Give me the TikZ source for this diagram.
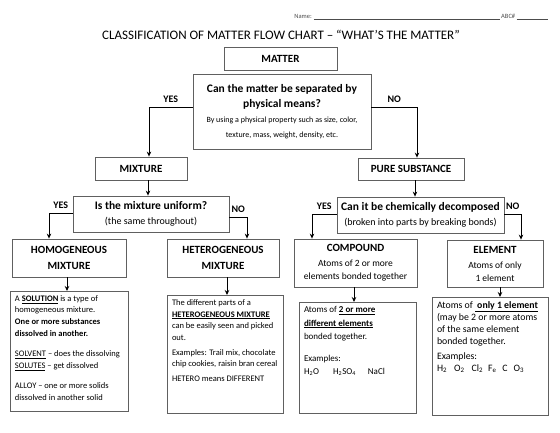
\documentclass[tikz,border=0pt]{standalone}
\usepackage{fontspec}
\setmainfont{Carlito}
\usetikzlibrary{positioning,arrows.meta}

\newcommand{\notefont}{\normalfont\fontsize{8}{9}\selectfont}
\newcommand{\subfont}{\normalfont\fontsize{10}{11}\selectfont}
\newcommand{\descbox}[3]{\parbox[t][#2][t]{#1}{\raggedright #3}}

\tikzset{
  box/.style={draw=gray!75!black, line width=0.8pt, align=center, inner sep=0pt,
    font=\bfseries\fontsize{11}{16}\selectfont},
  ask/.style={box, font=\bfseries\fontsize{11.5}{15}\selectfont},
  desc/.style={draw=gray!75!black, line width=0.8pt, anchor=north, inner xsep=5pt, inner ysep=4pt},
  link/.style={-{Stealth[length=5pt,width=4.5pt]}, line width=1pt},
  answer/.style={font=\bfseries\fontsize{10}{12}\selectfont, above=2pt}
}

\begin{document}
\begin{tikzpicture}[x=1pt,y=-1pt]
  \useasboundingbox (0,0) rectangle (560,433);

  % header
  \node[font=\fontsize{6.5}{7}\selectfont, text=gray!60!black] (name) at (421,17)
    {Name: \underline{\hspace{186pt}} ABC\# \underline{\hspace{31pt}}};
  \node[font=\fontsize{13}{15}\selectfont] (title) at (281,35)
    {CLASSIFICATION OF MATTER FLOW CHART -- “WHAT’S THE MATTER”};

  % top of the chart
  \node[box, minimum width=113pt, minimum height=23pt] (matter) at (280.5,58.5) {MATTER};
  \node[ask, minimum width=178pt, minimum height=75pt] (q_phys) at (282,111.5)
    {Can the matter be separated by\\physical means?\\
     {\notefont By using a physical property such as size, color,}\\
     {\notefont texture, mass, weight, density, etc.}};

  \node[box, minimum width=92pt, minimum height=23pt] (mixture) at (141,168.5) {MIXTURE};
  \node[box, minimum width=106pt, minimum height=22pt] (pure) at (411,169) {PURE SUBSTANCE};

  \node[ask, minimum width=156pt, minimum height=36pt] (q_unif) at (151,214)
    {Is the mixture uniform?\\{\subfont (the same throughout)}};
  \node[ask, minimum width=167pt, minimum height=36pt] (q_chem) at (420.5,215)
    {Can it be chemically decomposed\\{\subfont (broken into parts by breaking bonds)}};

  % kinds of matter
  \node[box, minimum width=114pt, minimum height=38pt] (homog) at (69,258) {HOMOGENEOUS\\MIXTURE};
  \node[box, minimum width=112pt, minimum height=38pt] (heterog) at (223,258) {HETEROGENEOUS\\MIXTURE};
  \node[box, minimum width=123pt, minimum height=48pt] (compound) at (355.5,263)
    {COMPOUND\\[-1pt]{\normalfont\fontsize{9.5}{13}\selectfont Atoms of 2 or more}\\[-3pt]
     {\normalfont\fontsize{9.5}{13}\selectfont elements bonded together}};
  \node[box, minimum width=96pt, minimum height=47pt] (element) at (495,263.5)
    {ELEMENT\\[-1pt]{\normalfont\fontsize{9.5}{13}\selectfont Atoms of only}\\[-3pt]
     {\normalfont\fontsize{9.5}{13}\selectfont 1 element}};

  % descriptions
  \node[desc, font=\fontsize{8.5}{11.7}\selectfont] (sol_desc) at (69,291)
    {\descbox{108pt}{112pt}{A \underline{\textbf{SOLUTION}} is a type of\\
      homogeneous mixture.\\
      \textbf{One or more substances}\\
      \textbf{dissolved in another.}\\[8.5pt]
      \underline{SOLVENT} -- does the dissolving\\
      \underline{SOLUTES} -- get dissolved\\[8.5pt]
      ALLOY -- one or more solids\\
      dissolved in another solid}};
  \node[desc, font=\fontsize{8.5}{11.7}\selectfont] (het_desc) at (225,295)
    {\descbox{106pt}{110pt}{The different parts of a\\
      \underline{\textbf{HETEROGENEOUS MIXTURE}}\\
      can be easily seen and picked\\
      out.\\[3pt]
      Examples: Trail mix, chocolate\\
      chip cookies, raisin bran cereal\\[3pt]
      HETERO means DIFFERENT}};
  \node[desc, font=\fontsize{9}{13.5}\selectfont] (comp_desc) at (357.5,302)
    {\descbox{107pt}{103pt}{Atoms of \underline{\textbf{2 or more}}\\
      \underline{\textbf{different elements}}\\
      bonded together.\\[8pt]
      Examples:\\
      H\textsubscript{2}O\hspace{14pt}H\textsubscript{2}SO\textsubscript{4}\hspace{12pt}NaCl}};
  \node[desc, font=\fontsize{9.8}{12}\selectfont] (elem_desc) at (490,297)
    {\descbox{106pt}{110pt}{Atoms of \underline{\textbf{\ only 1 element}}\\
      (may be 2 or more atoms\\
      of the same element\\
      bonded together.\\[3pt]
      Examples:\\
      H\textsubscript{2}\hspace{7pt}O\textsubscript{2}\hspace{7pt}Cl\textsubscript{2}\hspace{5pt}F\textsubscript{e}\hspace{6pt}C\hspace{6pt}O\textsubscript{3}}};

  % connectors
  \draw[link] ([yshift=3.5pt]q_phys.west) -| node[answer, pos=0.25] {YES} ([xshift=8pt]mixture.north);
  \draw[link] ([yshift=3.5pt]q_phys.east) -| node[answer, pos=0.25] {NO} ([xshift=6pt]pure.north);
  \draw[link] ([xshift=7pt]mixture.south) -- ([xshift=7pt]mixture.south |- q_unif.north);
  \draw[link] ([xshift=4pt]pure.south) -- ([xshift=4pt]pure.south |- q_chem.north);
  \draw[link] (q_unif.west) -| node[answer, pos=0.25] {YES} ([xshift=-20pt]homog.north);
  \draw[link] ([yshift=-4pt]q_unif.east) -| node[answer, pos=0.25] {NO} ([xshift=24pt]heterog.north);
  \draw[link] (q_chem.west) -| node[answer, pos=0.25] {YES} ([xshift=-43.5pt]compound.north);
  \draw[link] (q_chem.east) -| node[answer, pos=0.25] {NO} ([xshift=26pt]element.north);
  \draw[link] ([xshift=-2pt]homog.south) -- ([xshift=-2pt]homog.south |- sol_desc.north);
  \draw[link] ([xshift=4pt]heterog.south) -- ([xshift=4pt]heterog.south |- het_desc.north);
  \draw[link] ([xshift=-1.5pt]compound.south) -- ([xshift=-1.5pt]compound.south |- comp_desc.north);
  \draw[link] ([xshift=5pt]element.south) -- ([xshift=5pt]element.south |- elem_desc.north);
\end{tikzpicture}
\end{document}
